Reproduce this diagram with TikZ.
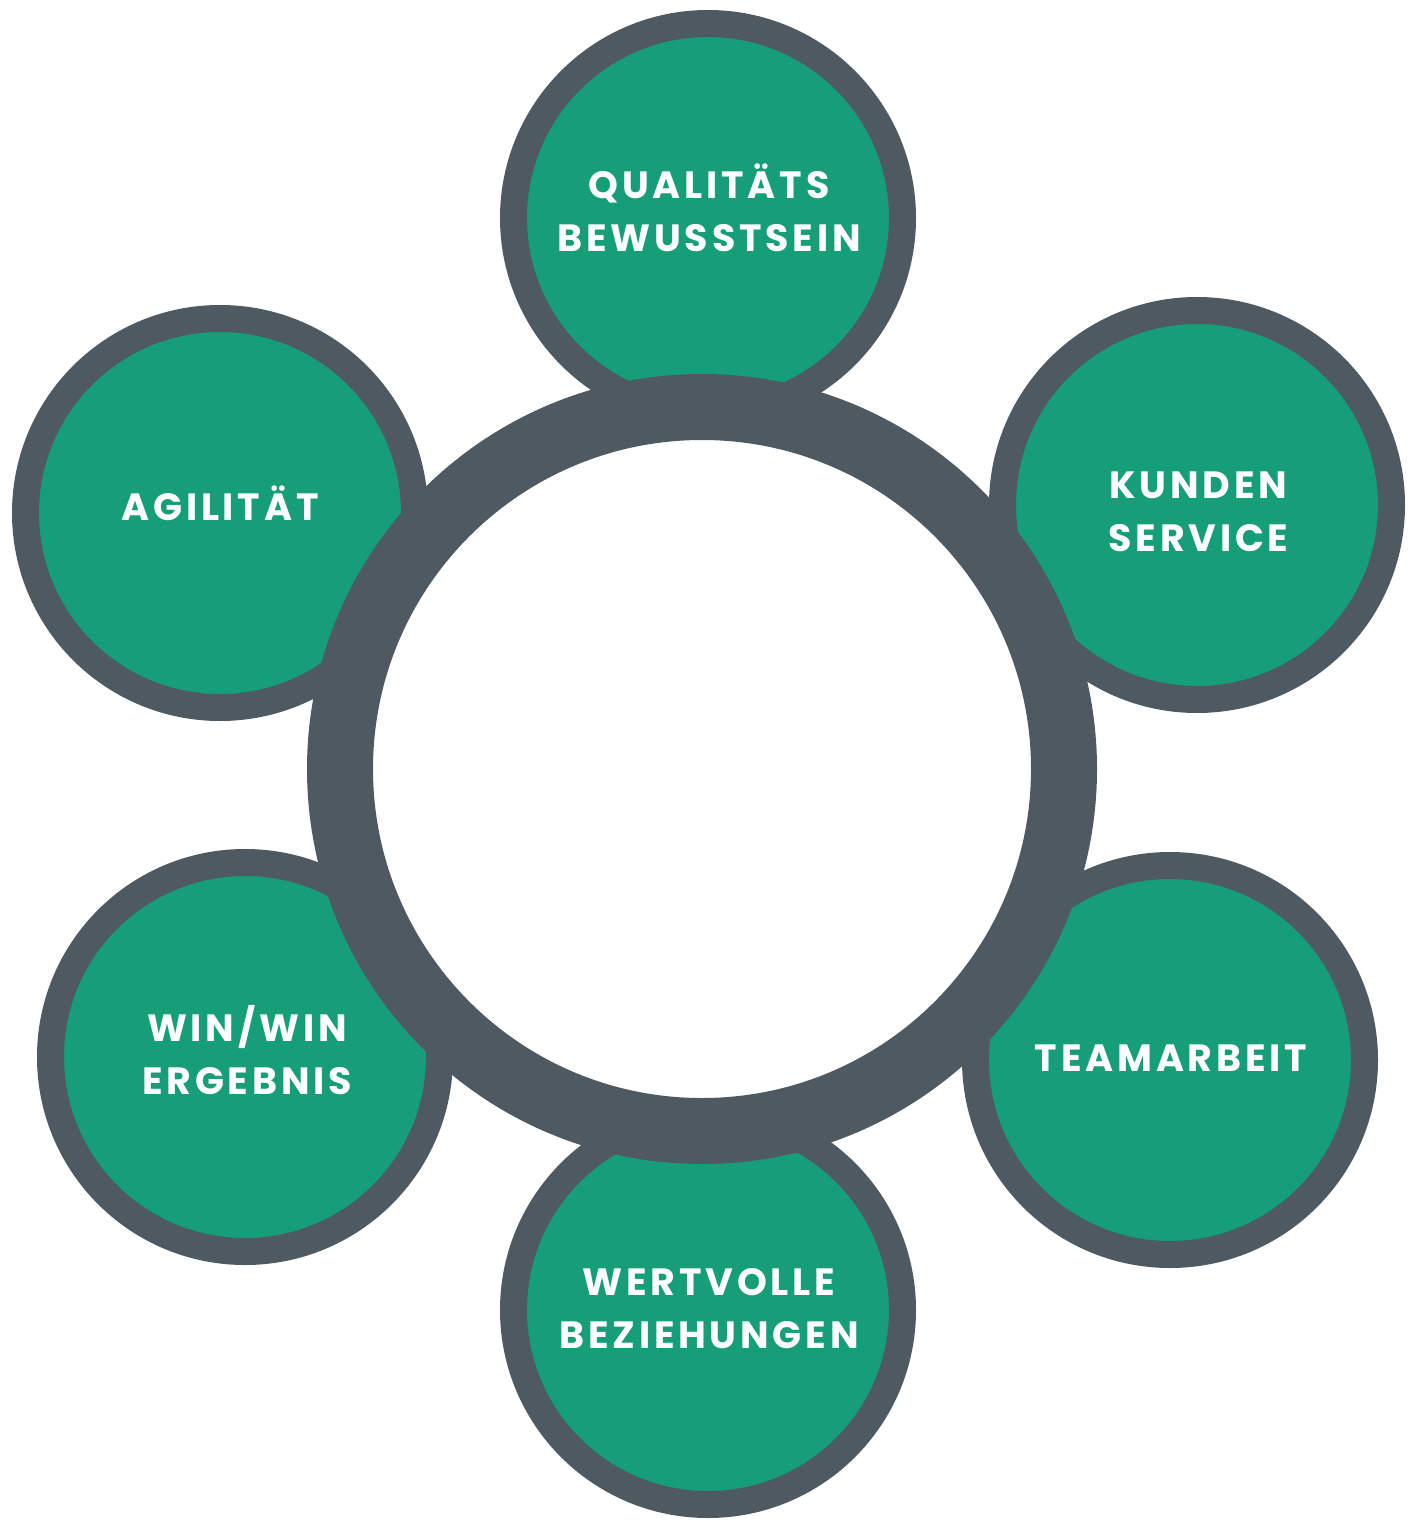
\documentclass[tikz,border=0pt]{standalone}
\usepackage{fontspec}
\usepackage{xcolor}
\usepackage{tikz}
\newfontfamily\topicfont[LetterSpace=10]{Poppins}
\definecolor{ringgray}{HTML}{4E5961}
\definecolor{tealgreen}{HTML}{169E79}

\begin{document}
\begin{tikzpicture}[x=0.5pt, y=-0.5pt,
    topic/.style={circle, draw=ringgray, line width=13.5pt, fill=tealgreen,
      minimum size=194.5pt, inner sep=0pt},
    topiclabel/.style={text=white, align=center, inner sep=0pt,
      font=\topicfont\bfseries\fontsize{19}{26.5}\selectfont}]
  \useasboundingbox (0,0) rectangle (1417,1536);
  % the six topics round the hub
  \node[topic] (quality) at (708,218) {};
  \node[topic] (service) at (1197,505) {};
  \node[topic] (team) at (1170,1060) {};
  \node[topic] (relations) at (708,1310) {};
  \node[topic] (winwin) at (245,1057) {};
  \node[topic] (agility) at (220,513) {};
  % hub ring on top
  \node[circle, draw=ringgray, line width=33pt, fill=white,
        minimum size=362pt, inner sep=0pt] (hub) at (702,769) {};
  % labels
  \node[topiclabel] (quality-text) at (709,207.5) {QUALITÄTS\\BEWUSSTSEIN};
  \node[topiclabel] (service-text) at (1198.5,512) {KUNDEN\\SERVICE};
  \node[topiclabel] (team-text) at (1171,1058) {TEAMARBEIT};
  \node[topiclabel] (relations-text) at (709,1309) {WERTVOLLE\\BEZIEHUNGEN};
  \node[topiclabel] (winwin-text) at (247,1050) {WIN/WIN\\ERGEBNIS};
  \node[topiclabel] (agility-text) at (220,503) {AGILITÄT};
\end{tikzpicture}
\end{document}
